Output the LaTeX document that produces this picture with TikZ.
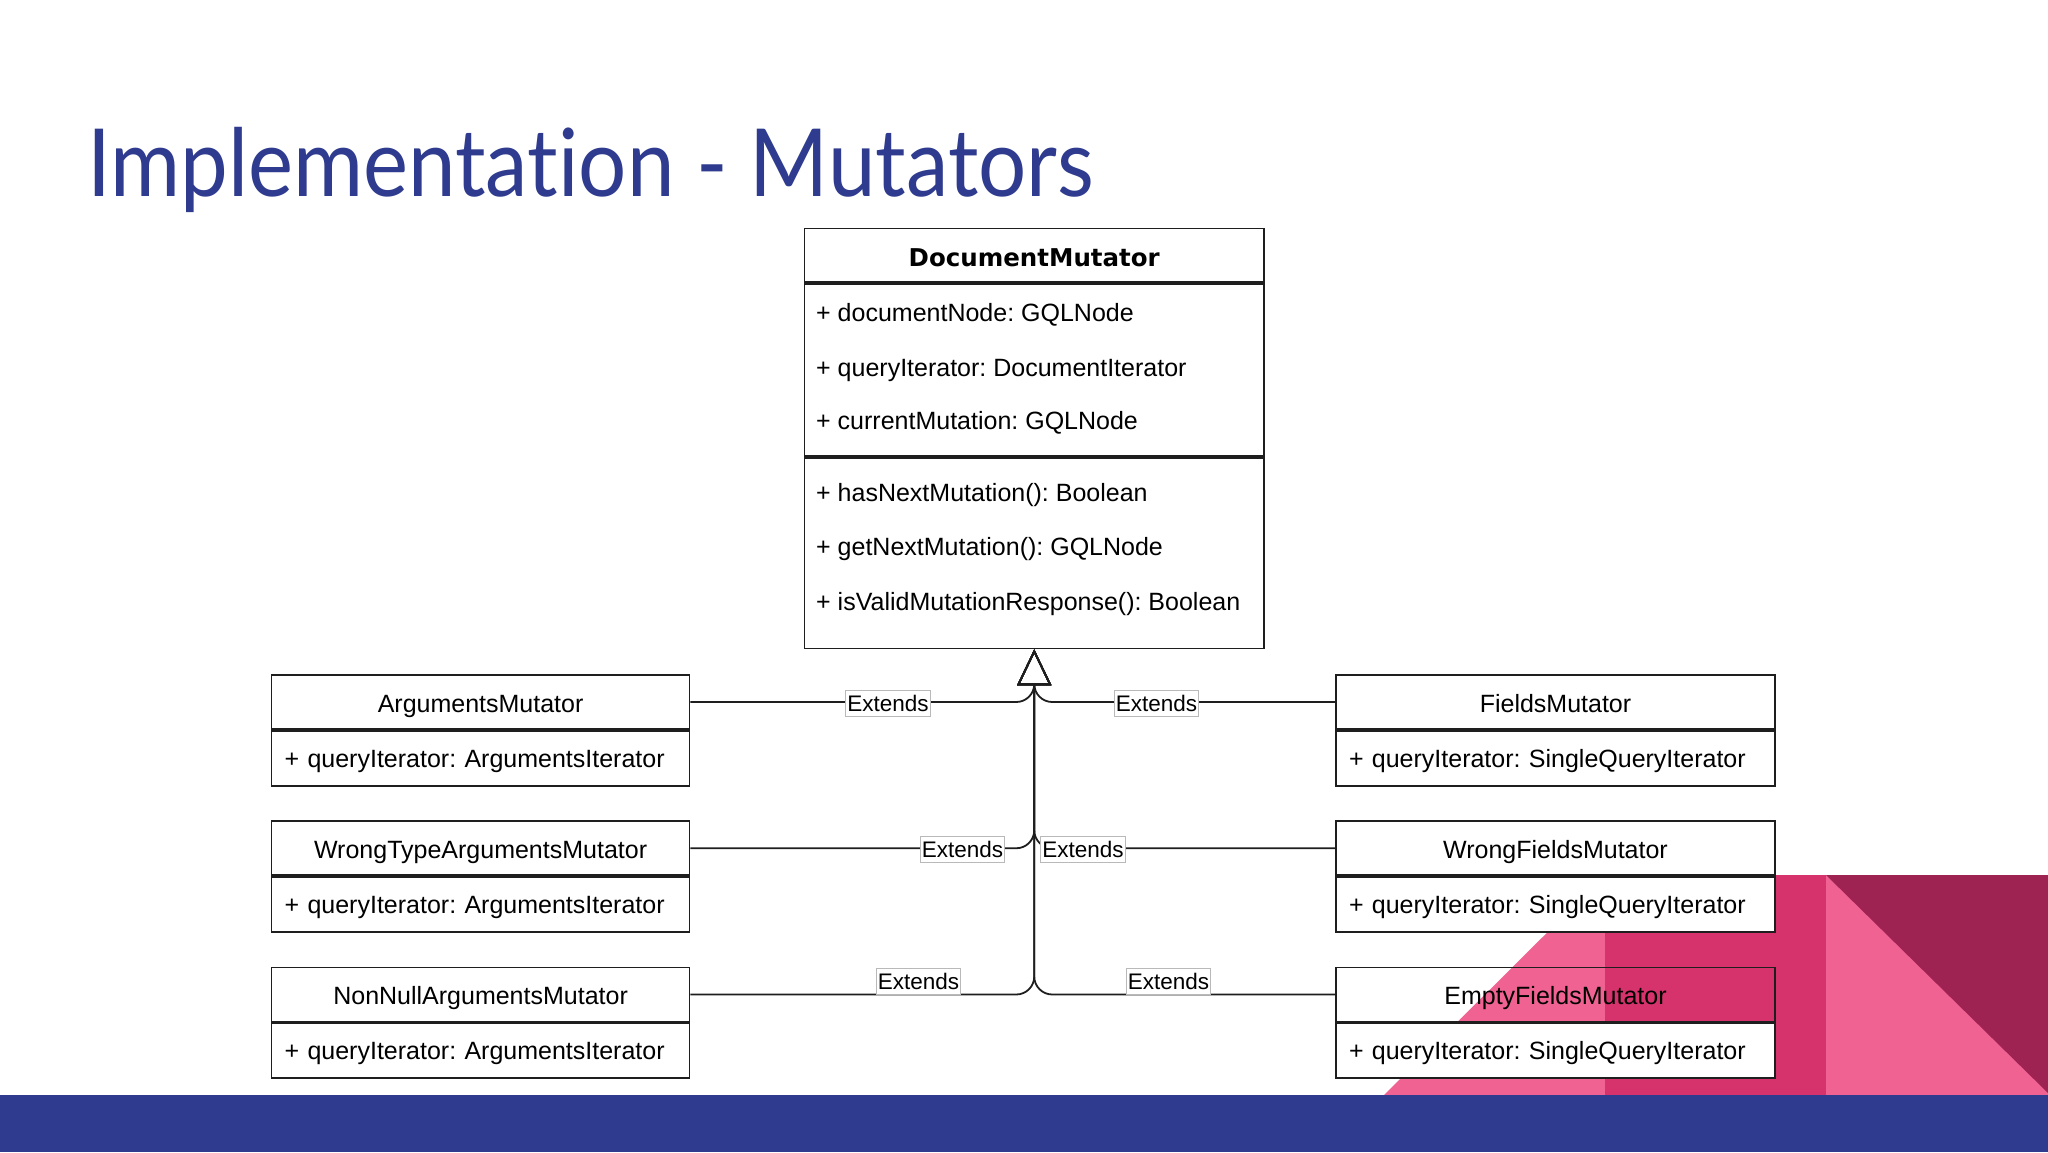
\documentclass[tikz,border=0pt]{standalone}
\usepackage{fontspec}
\setmainfont{Liberation Sans}
\newfontfamily\titlefont[Ligatures=NoCommon]{Lato}
\newfontfamily\headfont{DejaVu Sans}
\usetikzlibrary{positioning,arrows.meta}
\frenchspacing

\definecolor{slideblue}{HTML}{2E3B8E}
\definecolor{pinklight}{HTML}{F06292}
\definecolor{pinkmid}{HTML}{D6336C}
\definecolor{pinkdark}{HTML}{9E2352}
\definecolor{umlline}{HTML}{1E1E1E}

\tikzset{
  classhead/.style={draw=umlline, line width=1.7pt, inner sep=0pt, minimum height=54pt, text height=20.6pt, text depth=0pt, font=\fontsize{25}{30}\selectfont},
  classattr/.style={draw=umlline, line width=1.7pt, fill=white, inner xsep=13pt, inner ysep=0pt, minimum height=55pt, text height=17.8pt, text depth=0pt, align=left, anchor=north, font=\fontsize{25}{30}\selectfont},
  member/.style={anchor=west, inner sep=0pt, text height=17.8pt, text depth=0pt, font=\fontsize{25}{30}\selectfont},
  extlabel/.style={draw=gray!55, line width=0.8pt, fill=white, inner xsep=1.5pt, inner ysep=0pt, minimum height=26pt, font=\fontsize{22.5}{26}\selectfont},
  extends/.style={draw=umlline, line width=1.8pt, rounded corners=18pt, -{Triangle[open, length=36pt, width=34pt]}}
}

\begin{document}
\begin{tikzpicture}[x=1pt,y=-1pt]
  \useasboundingbox (0,0) rectangle (2048,1152);
  \fill[white] (0,0) rectangle (2048,1152);

  % slide decoration
  \fill[pinklight] (1384,1095) -- (1605,875) -- (1605,1095) -- cycle;
  \fill[pinkmid] (1605,875) rectangle (1826,1095);
  \fill[pinklight] (1826,875) rectangle (2048,1095);
  \fill[pinkdark] (1826,875) -- (2048,875) -- (2048,1093) -- cycle;
  \fill[slideblue] (0,1095) rectangle (2048,1152);

  \node[anchor=base west, inner sep=0pt, text=slideblue, font=\titlefont\fontsize{94}{100}\selectfont] (title) at (87,196) {\scalebox{0.906}[1]{Implementation - Mutators}};

  % parent class
  \node[classhead, minimum width=459.5pt, minimum height=53.5pt, text height=23.2pt, font=\headfont\bfseries\fontsize{24.5}{30}\selectfont] (docHead) at (1034.25,255.25) {DocumentMutator};
  \node[classattr, minimum width=459.5pt, minimum height=172.5pt] (docAttr) at (docHead.south) {};
  \node[classattr, minimum width=459.5pt, minimum height=190.5pt] (docMeth) at (docAttr.south) {};
  \foreach \n/\y/\t in {1/313/{+ documentNode: GQLNode},
                        2/367.5/{+ queryIterator: DocumentIterator},
                        3/421/{+ currentMutation: GQLNode},
                        4/493/{+ hasNextMutation(): Boolean},
                        5/547/{+ getNextMutation(): GQLNode},
                        6/601.5/{+ isValidMutationResponse(): Boolean}}
    \node[member] (docLine\n) at (816,\y) {\t};
  \coordinate (gen) at (docMeth.south);

  % argument mutators
  \node[classhead, minimum width=418pt] (argsHead) at (480.6,702) {ArgumentsMutator};
  \node[classattr, text width=392pt] (argsAttr) at (argsHead.south) {+ queryIterator: ArgumentsIterator};
  \node[classhead, minimum width=418pt] (wrongTypeHead) at (480.6,848.25) {WrongTypeArgumentsMutator};
  \node[classattr, text width=392pt] (wrongTypeAttr) at (wrongTypeHead.south) {+ queryIterator: ArgumentsIterator};
  \node[classhead, minimum width=418pt] (nonNullHead) at (480.6,994.5) {NonNullArgumentsMutator};
  \node[classattr, text width=392pt] (nonNullAttr) at (nonNullHead.south) {+ queryIterator: ArgumentsIterator};

  % field mutators
  \node[classhead, minimum width=439pt] (fieldsHead) at (1555.5,702) {FieldsMutator};
  \node[classattr, text width=413pt] (fieldsAttr) at (fieldsHead.south) {+ queryIterator: SingleQueryIterator};
  \node[classhead, minimum width=439pt] (wrongFieldsHead) at (1555.5,848.25) {WrongFieldsMutator};
  \node[classattr, text width=413pt] (wrongFieldsAttr) at (wrongFieldsHead.south) {+ queryIterator: SingleQueryIterator};
  \node[classhead, minimum width=439pt] (emptyFieldsHead) at (1555.5,994.5) {EmptyFieldsMutator};
  \node[classattr, text width=413pt] (emptyFieldsAttr) at (emptyFieldsHead.south) {+ queryIterator: SingleQueryIterator};

  % generalisation
  \draw[extends] (argsHead.east) -| (gen);
  \draw[extends] (wrongTypeHead.east) -| (gen);
  \draw[extends] (nonNullHead.east) -| (gen);
  \draw[extends] (fieldsHead.west) -| (gen);
  \draw[extends] (wrongFieldsHead.west) -| (gen);
  \draw[extends] (emptyFieldsHead.west) -| (gen);

  \node[extlabel] (extArgs) at (888,703) {Extends};
  \node[extlabel] (extFields) at (1156.5,703) {Extends};
  \node[extlabel] (extWrongType) at (962.5,849) {Extends};
  \node[extlabel] (extWrongFields) at (1083,849) {Extends};
  \node[extlabel, anchor=south] (extNonNull) at (918.5,994.5) {Extends};
  \node[extlabel, anchor=south] (extEmptyFields) at (1168.5,994.5) {Extends};
\end{tikzpicture}
\end{document}
